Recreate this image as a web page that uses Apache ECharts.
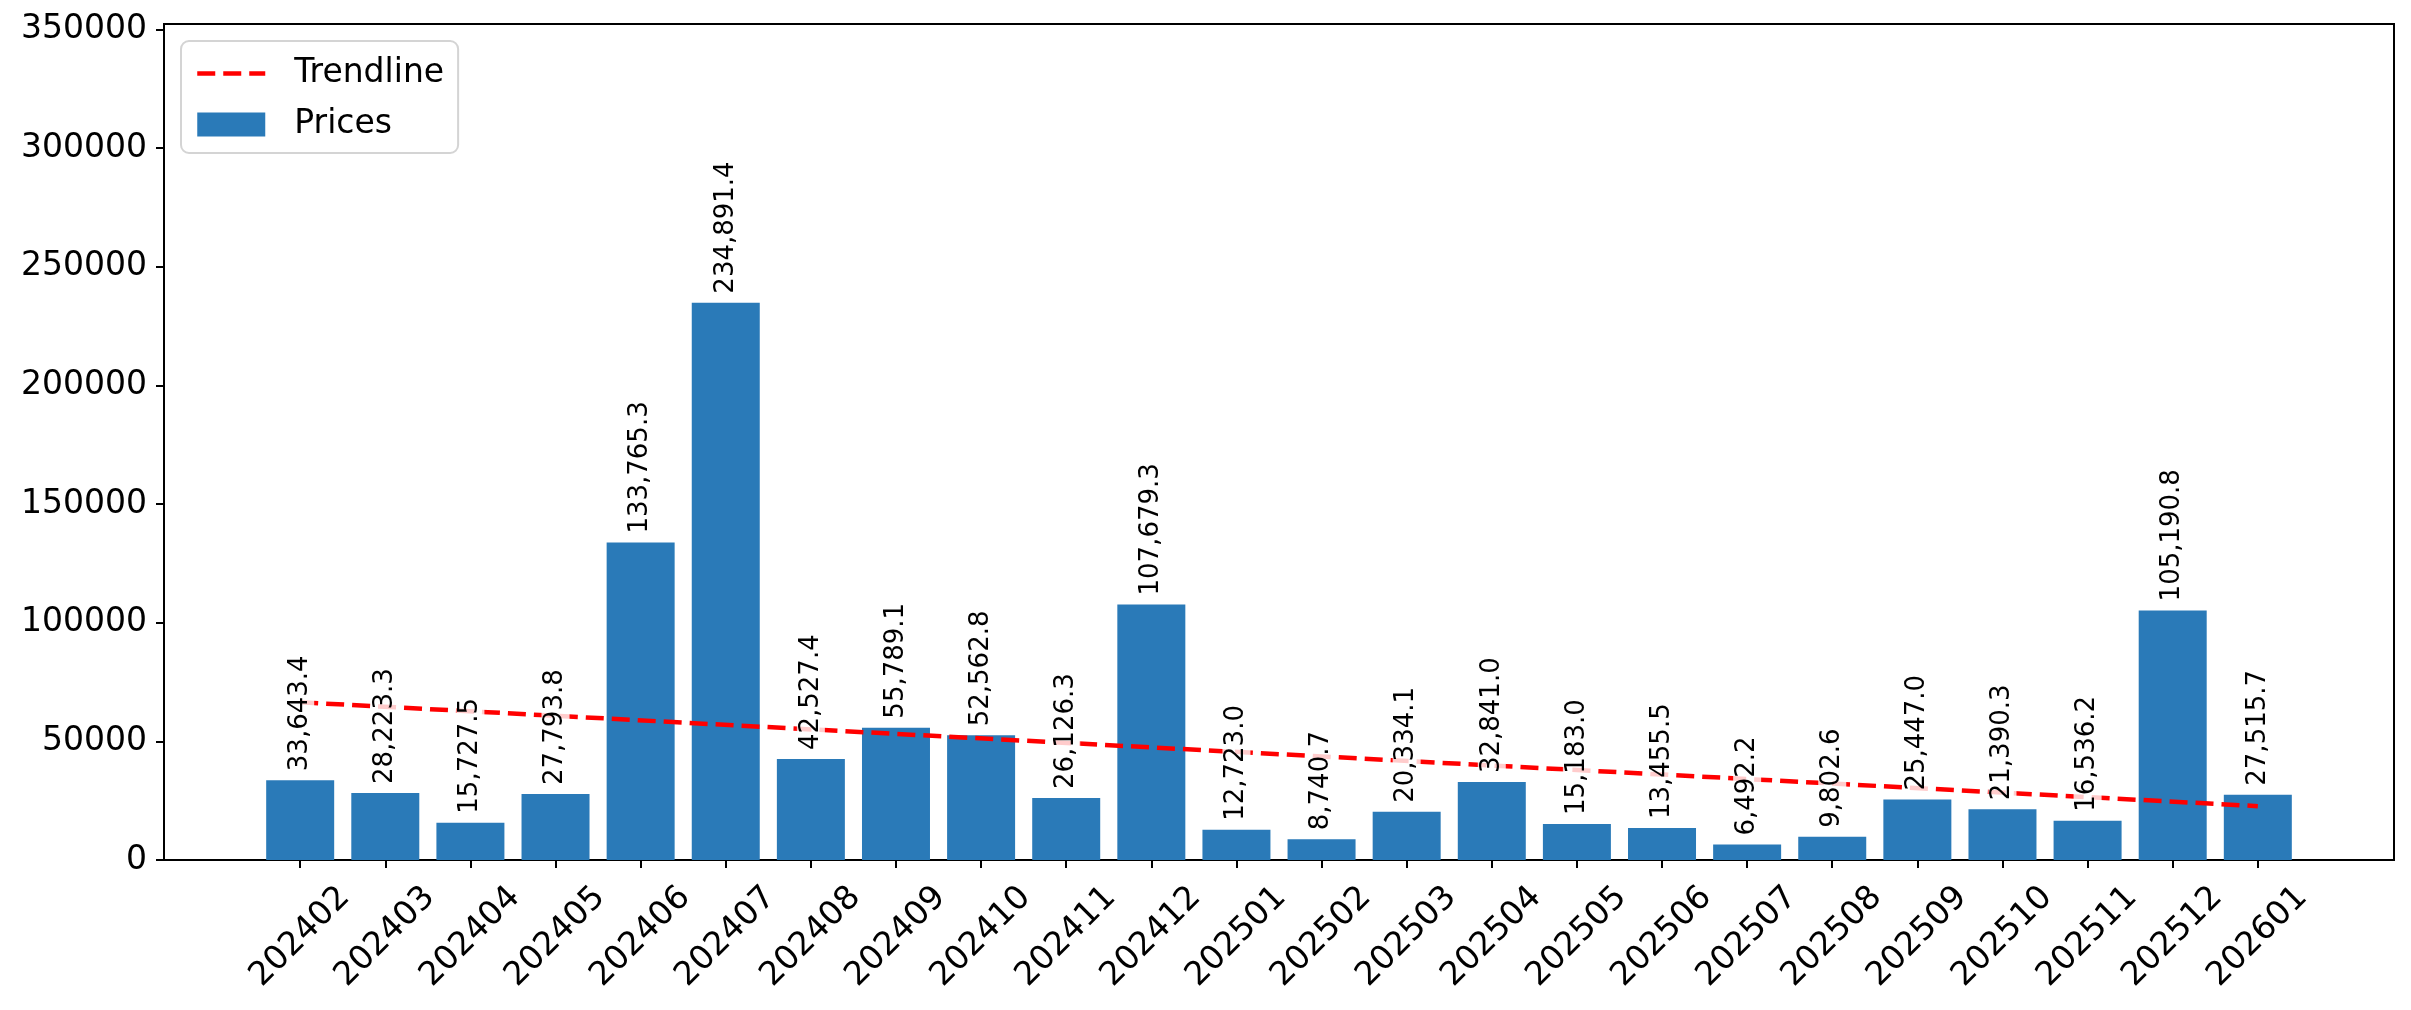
<!DOCTYPE html>
<html>
<head>
    <meta charset="utf-8">
    <title>Prices</title>
    <script src="https://cdn.jsdelivr.net/npm/echarts@6.0.0/dist/echarts.min.js"></script>
    <style>
        html, body { margin: 0; padding: 0; background: #fff; }
        #main { width: 2411px; height: 1010px; }
    </style>
</head>
<body>
    <div id="main"></div>
    <script type="text/javascript">
        // values
        var months = ['202402', '202403', '202404', '202405', '202406', '202407', '202408', '202409',
            '202410', '202411', '202412', '202501', '202502', '202503', '202504', '202505',
            '202506', '202507', '202508', '202509', '202510', '202511', '202512', '202601'];
        var prices = [33643.4, 28223.3, 15727.5, 27793.8, 133765.3, 234891.4, 42527.4, 55789.1,
            52562.8, 26126.3, 107679.3, 12723.0, 8740.7, 20334.1, 32841.0, 15183.0,
            13455.5, 6492.2, 9802.6, 25447.0, 21390.3, 16536.2, 105190.8, 27515.7];
        // trendline end points (first and last month)
        var trendIndex = [0, 23];
        var trendValues = [66480, 22700];
        var yTicks = [0, 50000, 100000, 150000, 200000, 250000, 300000, 350000];
        var yMax = 352337;

        var xIndex = months.map(function (m, i) { return i; });
        var barData = months.map(function (m, i) { return [i, prices[i]]; });
        var trendData = trendIndex.map(function (x, i) { return [x, trendValues[i]]; });

        var fmt = function (v) {
            return v.toLocaleString('en-US', { minimumFractionDigits: 1, maximumFractionDigits: 1 });
        };

        var trendStyle = { color: '#ff0000', width: 4.5, type: [18, 8] };

        var myChart = echarts.init(document.getElementById('main'));
        var option = {
            animation: false,
            textStyle: { fontFamily: 'DejaVu Sans' },
            grid: {
                left: 164, right: 17, top: 24, bottom: 150,
                show: true, borderColor: '#000', borderWidth: 2,
                containLabel: false, outerBoundsMode: 'none'
            },
            legend: {
                orient: 'vertical',
                left: 181, top: 41,
                data: [
                    { name: 'Trendline', itemStyle: { opacity: 0 }, lineStyle: trendStyle },
                    { name: 'Prices', icon: 'rect' }
                ],
                itemWidth: 68, itemHeight: 24, itemGap: 18,
                padding: [16, 14, 12, 14],
                borderColor: '#d4d4d4', borderWidth: 2, borderRadius: 8,
                backgroundColor: 'rgba(255,255,255,0.8)',
                textStyle: { fontSize: 33, color: '#000', lineHeight: 32, padding: [0, 0, 0, 24] }
            },
            xAxis: {
                type: 'value',
                min: -1.6, max: 24.6,
                splitLine: { show: false },
                axisLine: { onZero: false, lineStyle: { color: '#000', width: 2 } },
                axisTick: { customValues: xIndex, length: 8, lineStyle: { color: '#000', width: 2 } },
                axisLabel: {
                    customValues: xIndex,
                    formatter: function (v) { return months[Math.round(v)]; },
                    rotate: 45, fontSize: 33, color: '#000',
                    align: 'center', verticalAlign: 'middle', margin: 77
                }
            },
            yAxis: {
                type: 'value',
                min: 0, max: yMax,
                splitLine: { show: false },
                axisLine: { show: true, onZero: false, lineStyle: { color: '#000', width: 2 } },
                axisTick: { show: true, customValues: yTicks, length: 8, lineStyle: { color: '#000', width: 2 } },
                axisLabel: {
                    customValues: yTicks,
                    formatter: function (v) { return String(v); },
                    fontSize: 33, color: '#000', margin: 17
                }
            },
            series: [
                {
                    name: 'Prices',
                    type: 'bar',
                    data: barData,
                    barWidth: 68,
                    itemStyle: { color: '#2a7ab8' },
                    z: 1
                },
                {
                    name: 'Trendline',
                    type: 'line',
                    data: trendData,
                    symbol: 'none',
                    itemStyle: { color: '#ff0000' },
                    lineStyle: trendStyle,
                    z: 2
                },
                {
                    name: 'PriceLabels',
                    type: 'bar',
                    data: barData,
                    barWidth: 68,
                    barGap: '-100%',
                    silent: true,
                    itemStyle: { color: 'rgba(0,0,0,0)' },
                    label: {
                        show: true,
                        position: 'top',
                        distance: 6,
                        rotate: 90,
                        align: 'left',
                        verticalAlign: 'middle',
                        fontSize: 26,
                        color: '#000',
                        backgroundColor: 'rgba(255,255,255,0.8)',
                        padding: [1, 3],
                        formatter: function (p) { return fmt(p.value[1]); }
                    },
                    z: 3
                }
            ]
        };
        myChart.setOption(option);
    </script>
</body>
</html>
